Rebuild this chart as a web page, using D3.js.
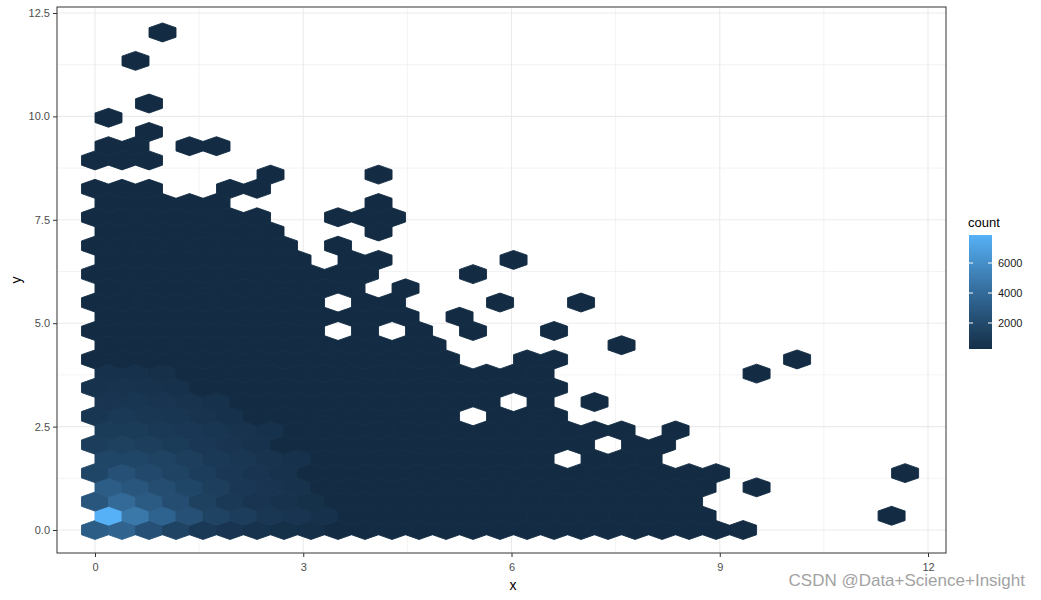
<!DOCTYPE html>
<html>
<head>
<meta charset="utf-8">
<script src="https://cdn.jsdelivr.net/npm/d3@7"></script>
<style>
  body { margin: 0; background: #fff; font-family: "Liberation Sans", Arial, sans-serif; }
</style>
</head>
<body>
<div id="vis"></div>
<script>
const FRAME_WIDTH = 1041;
const FRAME_HEIGHT = 600;
const PANEL = {left: 57, right: 946, top: 7, bottom: 553};

// hex grid steps (data units)
const COL_STEP = 0.389;
const ROW_STEP = 0.3437;

// occupied columns per hex row, as [start, end] ranges
const rowRanges = [
  [[0, 24]],
  [[0, 22], [29, 29]],
  [[0, 22]],
  [[0, 22], [24, 24]],
  [[0, 23], [30, 30]],
  [[0, 16], [18, 20]],
  [[0, 18], [20, 21]],
  [[0, 19], [21, 21]],
  [[0, 13], [15, 17]],
  [[0, 14], [16, 16], [18, 18]],
  [[0, 17]],
  [[0, 16], [24, 24]],
  [[0, 13], [16, 17], [26, 26]],
  [[0, 12], [19, 19]],
  [[0, 8], [10, 10], [12, 12], [14, 14], [17, 17]],
  [[0, 11], [13, 13]],
  [[0, 8], [10, 11], [15, 15], [18, 18]],
  [[0, 9], [11, 11]],
  [[0, 10], [14, 14]],
  [[0, 7], [9, 10], [15, 15]],
  [[0, 7], [9, 9]],
  [[0, 6], [10, 10]],
  [[0, 6], [9, 11]],
  [[0, 4], [10, 10]],
  [[0, 2], [5, 6]],
  [[6, 6], [10, 10]],
  [[0, 2]],
  [[0, 1], [3, 4]],
  [[2, 2]],
  [[0, 0]],
  [[2, 2]],
  [],
  [],
  [[1, 1]],
  [],
  [[2, 2]]
];

// estimated counts for the dense lower-left corner (rows 0..11, first columns)
const cornerCounts = [
  [3150, 3550, 2360, 1570, 950, 630, 470, 320, 240],
  [7870, 4720, 3540, 2360, 1570, 1180, 790, 630, 400],
  [2750, 3930, 2990, 2200, 1420, 940, 630, 470, 320],
  [3150, 2750, 2200, 1730, 1260, 870, 630, 470],
  [1730, 2360, 1970, 1570, 1180, 870, 630, 440],
  [1730, 1730, 1570, 1260, 940, 790, 550, 400],
  [1180, 1420, 1260, 1100, 870, 630, 470],
  [1100, 1100, 940, 870, 710, 550, 400],
  [710, 940, 790, 710, 550, 400],
  [630, 710, 630, 550, 400],
  [470, 550, 470, 400],
  [400, 400, 350]
];
const DEFAULT_COUNT = 60;

const xTicks = [0, 3, 6, 9, 12];
const yTicks = [0, 2.5, 5, 7.5, 10, 12.5];
const legendTicks = [2000, 4000, 6000];

const cells = [];
rowRanges.forEach((ranges, r) => {
  ranges.forEach(([a, b]) => {
    for (let k = a; k <= b; k++) {
      const row = cornerCounts[r];
      const c = (row && k < row.length) ? row[k] : DEFAULT_COUNT;
      cells.push({x: COL_STEP * (k + (r % 2 ? 0.5 : 0)), y: ROW_STEP * r, count: c});
    }
  });
});

const svg = d3.select("#vis").append("svg")
  .attr("width", FRAME_WIDTH).attr("height", FRAME_HEIGHT);

const X_SCALE = d3.scaleLinear().domain([0, 12]).range([95, 928]);
const Y_SCALE = d3.scaleLinear().domain([0, 12.5]).range([530, 13]);
const COLOR = d3.scaleLinear().domain([1, 7870])
  .range(["#132B43", "#56B1F7"]).interpolate(d3.interpolateLab);

// grid
const grid = svg.append("g");
d3.range(0, 12.01, 1.5).forEach(v => {
  grid.append("line").attr("x1", X_SCALE(v)).attr("x2", X_SCALE(v))
    .attr("y1", PANEL.top).attr("y2", PANEL.bottom)
    .attr("stroke", "#ebebeb").attr("stroke-width", v % 3 === 0 ? 1.1 : 0.6);
});
d3.range(0, 12.51, 1.25).forEach(v => {
  grid.append("line").attr("y1", Y_SCALE(v)).attr("y2", Y_SCALE(v))
    .attr("x1", PANEL.left).attr("x2", PANEL.right)
    .attr("stroke", "#ebebeb").attr("stroke-width", v % 2.5 === 0 ? 1.1 : 0.6);
});

// hexagons
const hw = COL_STEP / 2, hv = ROW_STEP * 2 / 3, hs = ROW_STEP / 3;
const hexPath = d => {
  const pts = [[0, hv], [hw, hs], [hw, -hs], [0, -hv], [-hw, -hs], [-hw, hs]];
  return "M" + pts.map(p => X_SCALE(d.x + p[0]) + "," + Y_SCALE(d.y + p[1])).join("L") + "Z";
};
svg.append("g").selectAll("path").data(cells).enter().append("path")
  .attr("d", hexPath)
  .attr("fill", d => COLOR(d.count))
  .attr("stroke", d => COLOR(d.count))
  .attr("stroke-width", 0.9);

// panel border
svg.append("rect").attr("x", PANEL.left).attr("y", PANEL.top)
  .attr("width", PANEL.right - PANEL.left).attr("height", PANEL.bottom - PANEL.top)
  .attr("fill", "none").attr("stroke", "#333").attr("stroke-width", 1);

// axes
const xAxis = svg.append("g").attr("transform", "translate(0," + PANEL.bottom + ")")
  .call(d3.axisBottom(X_SCALE).tickValues(xTicks).tickSize(4).tickFormat(d3.format("d")));
const yAxis = svg.append("g").attr("transform", "translate(" + PANEL.left + ",0)")
  .call(d3.axisLeft(Y_SCALE).tickValues(yTicks).tickSize(4).tickFormat(d3.format(".1f")));
[xAxis, yAxis].forEach(a => {
  a.select(".domain").remove();
  a.selectAll(".tick line").attr("stroke", "#333");
  a.selectAll(".tick text").attr("fill", "#4d4d4d").attr("font-size", "11px")
    .attr("font-family", "Liberation Sans, Arial, sans-serif");
});
xAxis.selectAll(".tick text").attr("dy", "1em");

svg.append("text").attr("x", X_SCALE(6.02)).attr("y", 590).attr("text-anchor", "middle")
  .attr("font-size", "14px").text("x");
svg.append("text").attr("transform", "translate(21," + (PANEL.top + PANEL.bottom) / 2 + ") rotate(-90)")
  .attr("text-anchor", "middle").attr("font-size", "14px").text("y");

// legend
const LEG = {x: 969, top: 235, bottom: 349, w: 23};
const L_SCALE = d3.scaleLinear().domain([267, 7867]).range([LEG.bottom, LEG.top]);
const grad = svg.append("defs").append("linearGradient").attr("id", "lg")
  .attr("x1", 0).attr("y1", 1).attr("x2", 0).attr("y2", 0);
d3.range(0, 1.01, 0.1).forEach(t => {
  grad.append("stop").attr("offset", t)
    .attr("stop-color", COLOR(L_SCALE.invert(LEG.bottom - t * (LEG.bottom - LEG.top))));
});
svg.append("text").attr("x", LEG.x - 1).attr("y", 227).attr("font-size", "13px").text("count");
svg.append("rect").attr("x", LEG.x).attr("y", LEG.top)
  .attr("width", LEG.w).attr("height", LEG.bottom - LEG.top).attr("fill", "url(#lg)");
legendTicks.forEach(v => {
  const y = L_SCALE(v);
  svg.append("line").attr("x1", LEG.x).attr("x2", LEG.x + 4).attr("y1", y).attr("y2", y)
    .attr("stroke", "#fff");
  svg.append("line").attr("x1", LEG.x + LEG.w - 4).attr("x2", LEG.x + LEG.w).attr("y1", y).attr("y2", y)
    .attr("stroke", "#fff");
  svg.append("text").attr("x", LEG.x + LEG.w + 6).attr("y", y + 4)
    .attr("font-size", "11px").attr("fill", "#1a1a1a").text(v);
});

// watermark
svg.append("text").attr("x", 1025).attr("y", 586).attr("text-anchor", "end")
  .attr("font-size", "17px").attr("fill", "#999").attr("opacity", 0.9)
  .text("CSDN @Data+Science+Insight");
</script>
</body>
</html>
